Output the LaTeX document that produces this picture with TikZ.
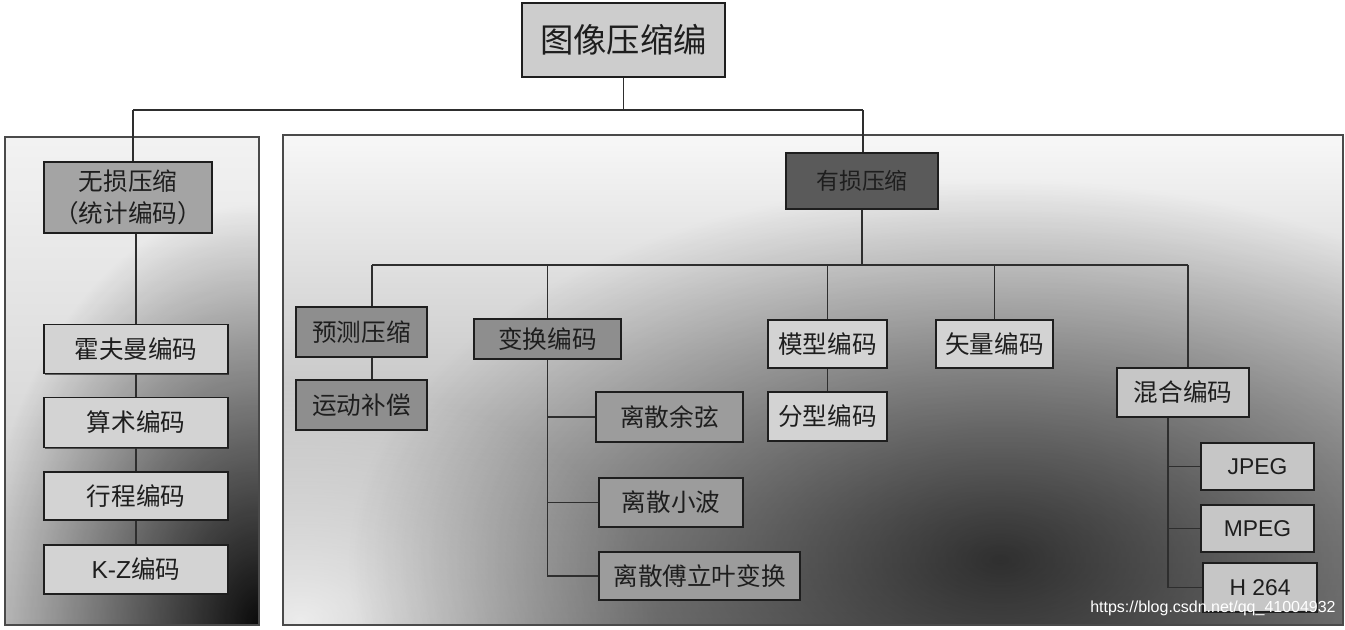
\documentclass[tikz,border=0pt]{standalone}
\usepackage{fontspec}
\setmainfont{Noto Sans CJK SC}
\newfontfamily\lat{Liberation Sans}
\usetikzlibrary{shadows,fadings}
\definecolor{ink}{HTML}{1E1E1E}
\definecolor{wire}{HTML}{2E2E2E}
\definecolor{frame}{HTML}{4A4A4A}
\definecolor{topfill}{HTML}{CDCDCD}
\definecolor{midfill}{HTML}{A4A4A4}
\definecolor{palefill}{HTML}{D3D3D3}
\definecolor{darkfill}{HTML}{5A5A5A}
\definecolor{greyfill}{HTML}{8E8E8E}
\definecolor{dctfill}{HTML}{9C9C9C}
\definecolor{mixfill}{HTML}{C6C6C6}
\tikzfading[name=glow, inner color=transparent!0, outer color=transparent!100]

\begin{document}
\begin{tikzpicture}[x=0.02cm, y=-0.02cm,
  box/.style={draw=ink, line width=0.9pt, text=ink, inner sep=0pt, align=center,
    font=\fontsize{14}{18}\selectfont,
    drop shadow={shadow xshift=0.8pt, shadow yshift=-0.8pt, fill=black, opacity=0.55}},
  link/.style={draw=wire, line width=0.9pt},
  panel/.style={draw=frame, line width=0.6pt}]
\useasboundingbox (0,0) rectangle (1345,629);
\fill[white] (0,0) rectangle (1345,629);

% left panel
\shade[top color=black!5, bottom color=black!22] (5,137) rectangle (259,625);
\begin{scope}
\clip (5,137) rectangle (259,625);
\fill[black, opacity=0.95, path fading=glow, fit fading=true] (-21,205) rectangle (539,1045);
\end{scope}
\draw[panel] (5,137) rectangle (259,625);

% right panel
\shade[top color=black!3, bottom color=black!38] (283,135) rectangle (1343,625);
\begin{scope}
\clip (283,135) rectangle (1343,625);
\fill[white, opacity=0.8, path fading=glow, fit fading=true] (-60,380) rectangle (660,860);
\fill[black, opacity=0.72, path fading=glow, fit fading=true] (350,180) rectangle (1650,940);
\end{scope}
\draw[panel] (283,135) rectangle (1343,625);

% bus lines
\coordinate (topL) at (133,110);
\coordinate (topR) at (863,110);
\coordinate (busL) at (372,265);
\coordinate (busR) at (1188,265);
\coordinate (hx) at (1168,0);

\node[box, fill=topfill, minimum width=4.06cm, minimum height=1.48cm, font=\fontsize{19}{22}\selectfont] (root) at (623.5,40) {图像压缩编};

\node[box, fill=midfill, minimum width=3.36cm, minimum height=1.42cm] (lossless) at (128,197.5) {无损压缩\\（统计编码）};
\node[box, fill=palefill, minimum width=3.68cm, minimum height=0.98cm] (huffman) at (136,349) {霍夫曼编码};
\node[box, fill=palefill, minimum width=3.68cm, minimum height=1.0cm] (arith) at (136,422.5) {算术编码};
\node[box, fill=palefill, minimum width=3.68cm, minimum height=0.96cm] (runlen) at (136,496) {行程编码};
\node[box, fill=palefill, minimum width=3.68cm, minimum height=0.98cm] (kz) at (136,569.5) {{\lat K-Z}编码};

\node[box, fill=darkfill, minimum width=3.04cm, minimum height=1.12cm, font=\fontsize{13}{16}\selectfont] (lossy) at (862,181) {有损压缩};

\node[box, fill=greyfill, minimum width=2.62cm, minimum height=1.0cm] (predict) at (361.5,332) {预测压缩};
\node[box, fill=greyfill, minimum width=2.62cm, minimum height=1.0cm] (motion) at (361.5,405) {运动补偿};
\node[box, fill=greyfill, minimum width=2.94cm, minimum height=0.8cm] (transform) at (547.5,339) {变换编码};
\node[box, fill=dctfill, minimum width=2.94cm, minimum height=1.0cm] (dct) at (669.5,417) {离散余弦};
\node[box, fill=dctfill, minimum width=2.88cm, minimum height=0.98cm] (dwt) at (671,502.5) {离散小波};
\node[box, fill=dctfill, minimum width=4.02cm, minimum height=0.96cm] (dft) at (699.5,576) {离散傅立叶变换};
\node[box, fill=palefill, minimum width=2.38cm, minimum height=0.96cm] (model) at (827.5,344) {模型编码};
\node[box, fill=palefill, minimum width=2.38cm, minimum height=0.98cm] (fractal) at (827.5,416.5) {分型编码};
\node[box, fill=palefill, minimum width=2.34cm, minimum height=0.96cm] (vector) at (994.5,344) {矢量编码};
\node[box, fill=mixfill, minimum width=2.64cm, minimum height=0.98cm] (hybrid) at (1183,392.5) {混合编码};
\node[box, fill=mixfill, minimum width=2.26cm, minimum height=0.94cm, font=\lat\fontsize{13}{16}\selectfont] (jpeg) at (1257.5,466.5) {JPEG};
\node[box, fill=mixfill, minimum width=2.26cm, minimum height=0.94cm, font=\lat\fontsize{13}{16}\selectfont] (mpeg) at (1257.5,528.5) {MPEG};
\node[box, fill=mixfill, minimum width=2.28cm, minimum height=0.98cm, font=\lat\fontsize{13}{16}\selectfont] (h264) at (1260,587.5) {H 264};

% connectors
\draw[link] (root.south) -- (root.south |- topL);
\draw[link] (topL) -- (topR);
\draw[link] (topL) -- (topL |- lossless.north);
\draw[link] (topR) -- (topR |- lossy.north);
\draw[link] (huffman.north |- lossless.south) -- (huffman.north);
\draw[link] (huffman.south) -- (arith.north);
\draw[link] (arith.south) -- (runlen.north);
\draw[link] (runlen.south) -- (kz.north);
\draw[link] (lossy.south) -- (lossy.south |- busL);
\draw[link] (busL) -- (busR);
\draw[link] (busL) -- (busL |- predict.north);
\draw[link] (predict.south -| busL) -- (motion.north -| busL);
\draw[link] (transform.north |- busL) -- (transform.north);
\draw[link] (model.north |- busL) -- (model.north);
\draw[link] (vector.north |- busL) -- (vector.north);
\draw[link] (busR) -- (busR |- hybrid.north);
\draw[link] (transform.south) -- (transform.south |- dft.west) -- (dft.west);
\draw[link] (transform.south |- dct.west) -- (dct.west);
\draw[link] (transform.south |- dwt.west) -- (dwt.west);
\draw[link] (model.south) -- (fractal.north);
\draw[link] (hybrid.south -| hx) -- (h264.west -| hx) -- (h264.west);
\draw[link] (jpeg.west -| hx) -- (jpeg.west);
\draw[link] (mpeg.west -| hx) -- (mpeg.west);

\node[anchor=east, text=white, font=\lat\fontsize{9.1}{11}\selectfont, inner sep=0pt] (mark) at (1336,608) {https://blog.csdn.net/qq\_41004932};
\end{tikzpicture}
\end{document}
